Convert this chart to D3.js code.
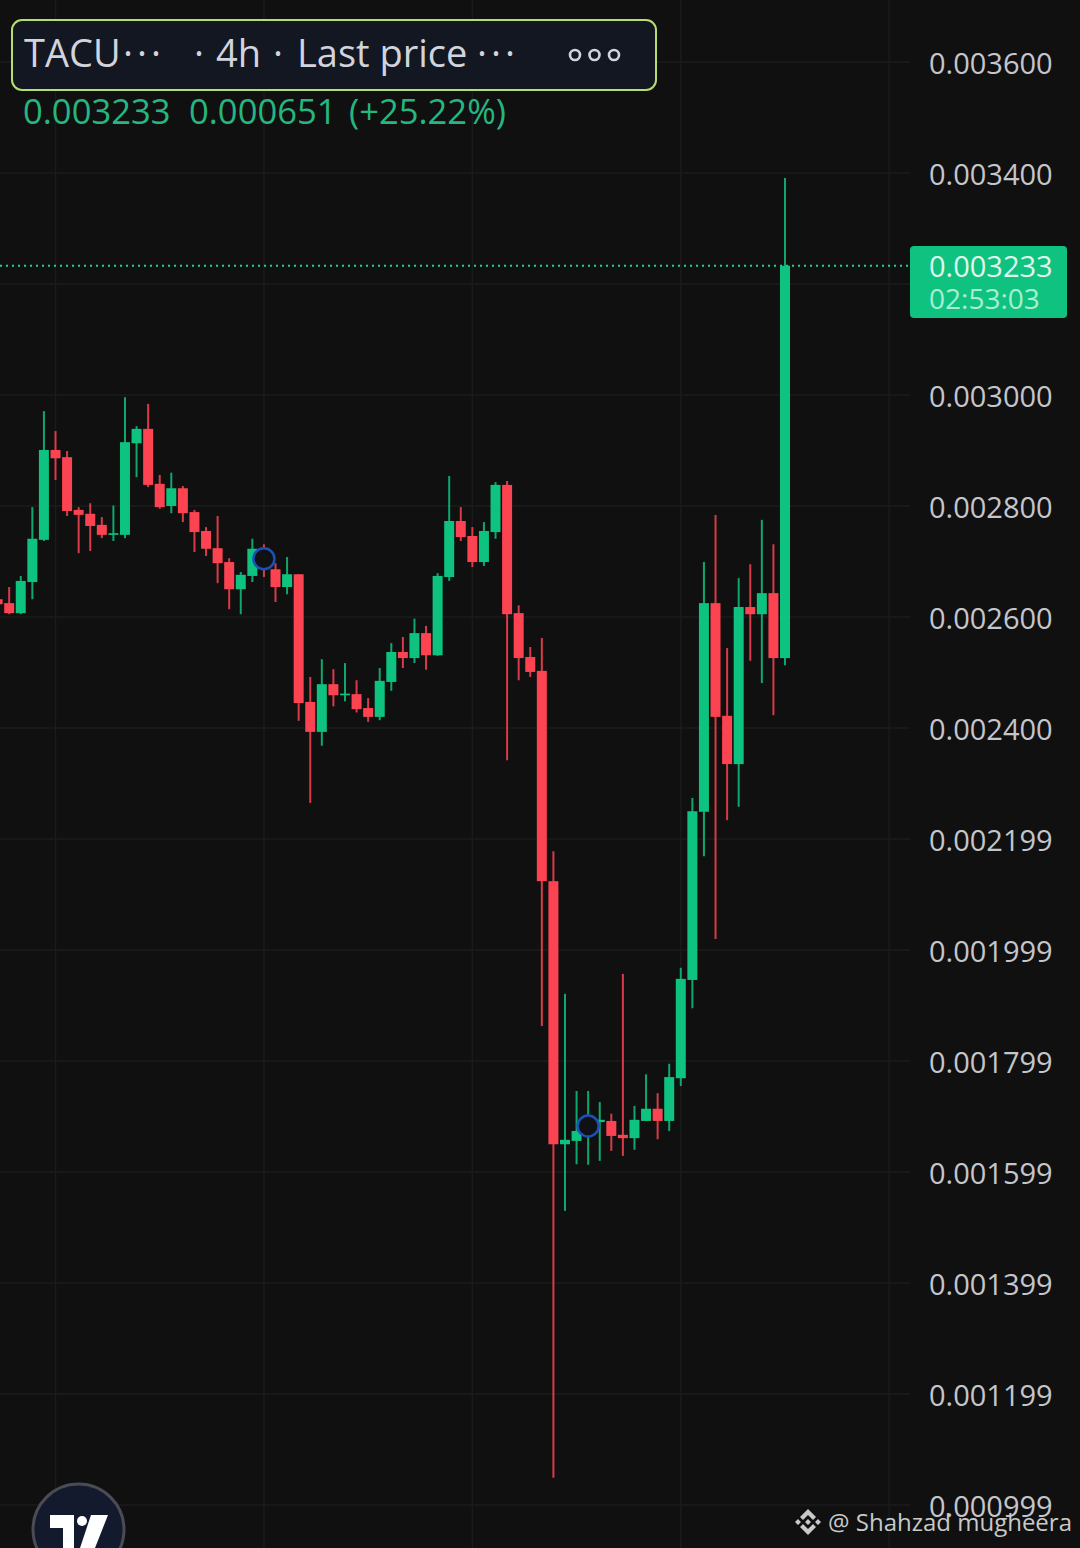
<!DOCTYPE html>
<html>
<head>
<meta charset="utf-8">
<script src="https://cdn.jsdelivr.net/npm/d3@7"></script>
<style>
    html, body { margin: 0; padding: 0; background: #101010; }
    svg { display: block; }
    text { font-family: "Open Sans", "Noto Sans", sans-serif; }
</style>
</head>
<body>
<div id="chart"></div>
<script>
// candles, left to right
const opens = [0.002632,0.002625,0.002607,0.002663,0.002739,0.002901,0.002888,0.002793,0.002786,0.002766,
    0.002748,0.002748,0.002913,0.002939,0.002840,0.002800,0.002832,0.002789,0.002755,0.002724,
    0.002699,0.002650,0.002674,0.002715,0.002686,0.002654,0.002677,0.002447,0.002393,0.002479,
    0.002459,0.002461,0.002436,0.002420,0.002483,0.002537,0.002526,0.002571,0.002531,0.002672,
    0.002773,0.002746,0.002699,0.002753,0.002838,0.002607,0.002528,0.002503,0.002124,0.001650,
    0.001656,0.001672,0.001690,0.001692,0.001667,0.001661,0.001692,0.001714,0.001692,0.001769,
    0.001946,0.002249,0.002625,0.002422,0.002335,0.002618,0.002605,0.002643,0.002526];
const closes = [0.002623,0.002607,0.002665,0.002741,0.002901,0.002886,0.002791,0.002784,0.002764,0.002748,
    0.002751,0.002915,0.002939,0.002838,0.002798,0.002832,0.002787,0.002753,0.002723,0.002697,
    0.002650,0.002676,0.002723,0.002688,0.002654,0.002677,0.002445,0.002393,0.002479,0.002459,
    0.002462,0.002434,0.002420,0.002485,0.002537,0.002526,0.002571,0.002531,0.002674,0.002773,
    0.002744,0.002699,0.002755,0.002838,0.002605,0.002526,0.002501,0.002124,0.001650,0.001658,
    0.001674,0.001690,0.001694,0.001665,0.001661,0.001694,0.001714,0.001692,0.001771,0.001948,
    0.002250,0.002625,0.002420,0.002335,0.002618,0.002605,0.002643,0.002526,0.003233];
const highs = [0.002636,0.002654,0.002674,0.002798,0.002971,0.002935,0.002899,0.002798,0.002805,0.002780,
    0.002801,0.002996,0.002944,0.002984,0.002856,0.002860,0.002836,0.002793,0.002762,0.002782,
    0.002706,0.002681,0.002741,0.002731,0.002697,0.002708,0.002677,0.002492,0.002524,0.002506,
    0.002517,0.002486,0.002454,0.002508,0.002553,0.002564,0.002597,0.002584,0.002679,0.002854,
    0.002798,0.002762,0.002771,0.002843,0.002845,0.002621,0.002546,0.002562,0.002178,0.001921,
    0.001746,0.001746,0.001726,0.001705,0.001957,0.001719,0.001776,0.001742,0.001795,0.001968,
    0.002274,0.002699,0.002784,0.002544,0.002670,0.002695,0.002775,0.002731,0.003391];
const lows = [0.002621,0.002605,0.002605,0.002632,0.002737,0.002847,0.002782,0.002715,0.002719,0.002742,
    0.002737,0.002742,0.002852,0.002834,0.002795,0.002787,0.002771,0.002717,0.002710,0.002661,
    0.002614,0.002605,0.002663,0.002672,0.002627,0.002641,0.002413,0.002265,0.002368,0.002439,
    0.002448,0.002428,0.002411,0.002414,0.002467,0.002508,0.002517,0.002505,0.002530,0.002665,
    0.002737,0.002690,0.002692,0.002741,0.002342,0.002486,0.002492,0.001863,0.001049,0.001530,
    0.001614,0.001613,0.001620,0.001638,0.001629,0.001640,0.001692,0.001659,0.001674,0.001755,
    0.001895,0.002169,0.002020,0.002234,0.002258,0.002521,0.002481,0.002423,0.002513];

// axes
const priceTicks = [0.0036,0.0034,0.0032,0.003,0.0028,0.0026,0.0024,0.0022,0.002,0.0018,0.0016,0.0014,0.0012,0.001];
const priceLabels = ["0.003600","0.003400","","0.003000","0.002800","0.002600","0.002400","0.002199","0.001999","0.001799","0.001599","0.001399","0.001199","0.000999"];
const timeTicks = [5,23,41,59,77];

// price marks
const markerCandles = [23,51];
const markerPrices = [0.002705,0.001683];
const lastPrice = 0.003233;
const lastPriceText = "0.003233";
const countdownText = "02:53:03";
const headerValues = ["0.003233","0.000651","(+25.22%)"];

function drawChart() {
    const width = 1080;
    const height = 1548;
    const up = "#0ec27f";
    const down = "#fb4351";
    const paneRight = 910;

    const svg = d3.select("#chart").append("svg")
        .attr("width", width)
        .attr("height", height);

    svg.append("rect").attr("width", width).attr("height", height).attr("fill", "#101010");

    const x = d3.scaleLinear().domain([0, 68]).range([-2.4, 785]);
    const y = d3.scaleLinear().domain([0.0036, 0.001]).range([62, 1505]);

    // grid
    svg.append("g").selectAll("line")
        .data(priceTicks)
        .join("line")
        .attr("x1", 0).attr("x2", paneRight)
        .attr("y1", d => y(d)).attr("y2", d => y(d))
        .attr("stroke", "#1b1b1b").attr("stroke-width", 1.5);

    svg.append("g").selectAll("line")
        .data(timeTicks)
        .join("line")
        .attr("x1", d => x(d)).attr("x2", d => x(d))
        .attr("y1", 0).attr("y2", height)
        .attr("stroke", "#1b1b1b").attr("stroke-width", 1.5);

    // price axis
    const axis = d3.axisRight(y)
        .tickValues(priceTicks)
        .tickSize(0)
        .tickFormat((d, i) => priceLabels[i]);
    const axisG = svg.append("g")
        .attr("transform", "translate(929,1)")
        .call(axis);
    axisG.select(".domain").remove();
    // the 0.003200 label sits behind the last price box
    axisG.selectAll(".tick").filter((d, i) => !priceLabels[i]).remove();
    axisG.selectAll("text")
        .attr("x", 0)
        .attr("dy", "0.35em")
        .attr("fill", "#c4c6cc")
        .style("font-size", "29px")
        .style("font-family", "'Open Sans', sans-serif");

    // last price line
    svg.append("line")
        .attr("x1", 0).attr("x2", paneRight)
        .attr("y1", y(lastPrice)).attr("y2", y(lastPrice))
        .attr("stroke", "#25d096").attr("stroke-width", 2)
        .attr("stroke-dasharray", "2 4");

    // candles
    const candles = d3.range(opens.length);
    const color = i => closes[i] >= opens[i] ? up : down;

    svg.append("g").selectAll("line")
        .data(candles)
        .join("line")
        .attr("x1", i => x(i)).attr("x2", i => x(i))
        .attr("y1", i => y(highs[i])).attr("y2", i => y(lows[i]))
        .attr("stroke", color).attr("stroke-width", 2)
        .attr("stroke-opacity", 0.85);

    const bodyWidth = 10;
    svg.append("g").selectAll("rect")
        .data(candles)
        .join("rect")
        .attr("x", i => x(i) - bodyWidth / 2)
        .attr("width", bodyWidth)
        .attr("y", i => y(Math.max(opens[i], closes[i])))
        .attr("height", i => Math.abs(y(opens[i]) - y(closes[i])))
        .attr("fill", color);

    // blue circles on two candles
    svg.append("g").selectAll("circle")
        .data(markerCandles)
        .join("circle")
        .attr("cx", d => x(d))
        .attr("cy", (d, i) => y(markerPrices[i]))
        .attr("r", 10.5)
        .attr("fill", "#101114")
        .attr("stroke", "#1c4fb8")
        .attr("stroke-width", 2.5);

    // last price label
    svg.append("rect")
        .attr("x", paneRight).attr("y", 246)
        .attr("width", 157).attr("height", 72)
        .attr("rx", 4)
        .attr("fill", "#0fc27f");
    svg.append("text")
        .attr("x", 929).attr("y", 277)
        .attr("fill", "#e0f7ec")
        .style("font-size", "29px")
        .text(lastPriceText);
    svg.append("text")
        .attr("x", 929).attr("y", 309)
        .attr("fill", "#a8efd2")
        .style("font-size", "28px")
        .text(countdownText);

    // header box
    svg.append("rect")
        .attr("x", 12).attr("y", 20)
        .attr("width", 644).attr("height", 70)
        .attr("rx", 10)
        .attr("fill", "#131722")
        .attr("stroke", "#b5dd70")
        .attr("stroke-width", 2);

    const headerParts = [[24, "TACU"], [123, "···"], [194, "·"], [216, "4h"], [273, "·"], [297, "Last price"], [477, "···"]];
    svg.append("g").selectAll("text")
        .data(headerParts)
        .join("text")
        .attr("x", d => d[0])
        .attr("y", 67)
        .attr("fill", "#d1d4dc")
        .attr("letter-spacing", d => d[1] === "···" ? 4 : 0)
        .style("font-size", "38px")
        .text(d => d[1]);

    svg.append("g").selectAll("circle")
        .data([575, 594.5, 614])
        .join("circle")
        .attr("cx", d => d).attr("cy", 55).attr("r", 5)
        .attr("fill", "none")
        .attr("stroke", "#d1d4dc").attr("stroke-width", 2.6);

    svg.append("g").selectAll("text")
        .data(headerValues)
        .join("text")
        .attr("x", (d, i) => [23, 189, 349][i])
        .attr("y", 124)
        .attr("fill", "#26b67f")
        .style("font-size", "34.6px")
        .text(d => d);

    // tradingview badge
    svg.append("circle")
        .attr("cx", 78.5).attr("cy", 1529.5).attr("r", 45.5)
        .attr("fill", "#131a2e")
        .attr("stroke", "#4a4b53").attr("stroke-width", 3);
    svg.append("path")
        .attr("d", "M50 1515H74V1548H63V1528H50Z M91 1515H108L95 1548H80Z")
        .attr("fill", "#fff");
    svg.append("circle")
        .attr("cx", 82).attr("cy", 1521).attr("r", 5)
        .attr("fill", "#fff");

    // watermark
    const wm = svg.append("g").attr("transform", "translate(808,1522)").attr("fill", "#c9c9c9");
    wm.append("path")
        .attr("d", "M0 -13L8 -5L5 -2L0 -7L-5 -2L-8 -5Z M0 13L8 5L5 2L0 7L-5 2L-8 5Z M0 -3L3 0L0 3L-3 0Z M-10 -3L-7 0L-10 3L-13 0Z M10 -3L13 0L10 3L7 0Z");
    svg.append("text")
        .attr("x", 828).attr("y", 1531)
        .attr("fill", "#c9c9c9")
        .style("font-size", "24px")
        .text("@ Shahzad mugheera");
}

drawChart();
</script>
</body>
</html>
